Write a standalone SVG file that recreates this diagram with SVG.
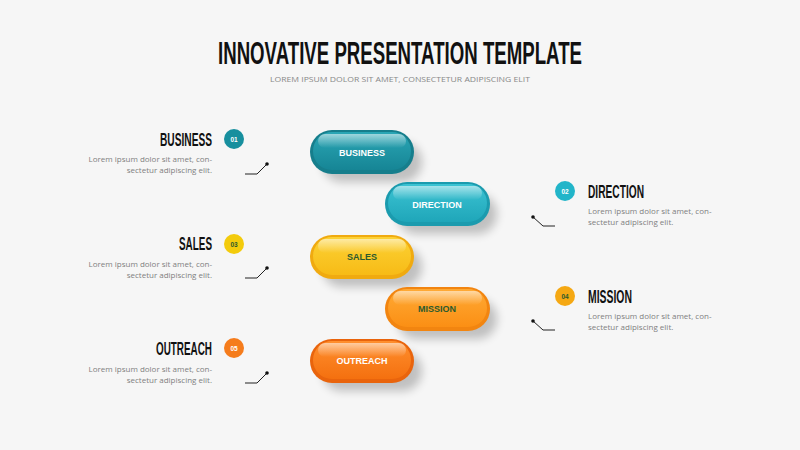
<svg xmlns="http://www.w3.org/2000/svg" width="800" height="450" viewBox="0 0 800 450">
<defs>
<filter id="sh" x="-30%" y="-50%" width="160%" height="220%"><feGaussianBlur stdDeviation="5"/></filter>
<linearGradient id="gloss" x1="0" y1="0" x2="0" y2="1"><stop offset="0" stop-color="#fff" stop-opacity="0.55"/><stop offset="1" stop-color="#fff" stop-opacity="0"/></linearGradient>
<linearGradient id="g1" x1="0" y1="0" x2="0" y2="1"><stop offset="0" stop-color="#2aa6b5"/><stop offset="1" stop-color="#168595"/></linearGradient>
<linearGradient id="g2" x1="0" y1="0" x2="0" y2="1"><stop offset="0" stop-color="#3cc3d3"/><stop offset="1" stop-color="#1fa6b9"/></linearGradient>
<linearGradient id="g3" x1="0" y1="0" x2="0" y2="1"><stop offset="0" stop-color="#fcd235"/><stop offset="1" stop-color="#f7bb16"/></linearGradient>
<linearGradient id="g4" x1="0" y1="0" x2="0" y2="1"><stop offset="0" stop-color="#ffaa35"/><stop offset="1" stop-color="#fb8f14"/></linearGradient>
<linearGradient id="g5" x1="0" y1="0" x2="0" y2="1"><stop offset="0" stop-color="#ff8f2e"/><stop offset="1" stop-color="#f4700f"/></linearGradient>
</defs>
<style>
.title{font-family:"Liberation Sans",Arial,sans-serif;font-weight:bold;fill:#111}
.sub{font-family:"Open Sans","Liberation Sans",sans-serif;font-size:8px;fill:#888}
.head{font-family:"Liberation Sans",Arial,sans-serif;font-weight:bold;font-size:19px;fill:#111}
.desc{font-family:"Open Sans","Liberation Sans",sans-serif;font-size:8px;fill:#808080}
.num{font-family:"Liberation Sans",Arial,sans-serif;font-weight:bold;font-size:6.5px;text-anchor:middle}
.pl{font-family:"Liberation Sans",Arial,sans-serif;font-weight:bold;font-size:9px;text-anchor:middle}
.shadow{fill:#000;opacity:0.22;filter:url(#sh)}
.conn{fill:none;stroke:#222;stroke-width:1}
</style>
<rect width="800" height="450" fill="#f6f6f6"/>
<text class="title" transform="matrix(0.58 0 0 1 218 64)" x="0" y="0" font-size="31" textLength="627.6" lengthAdjust="spacingAndGlyphs">INNOVATIVE PRESENTATION TEMPLATE</text>
<text class="sub" x="270" y="82" textLength="260" lengthAdjust="spacingAndGlyphs">LOREM IPSUM DOLOR SIT AMET, CONSECTETUR ADIPISCING ELIT</text>

<g id="connectors">
<polyline class="conn" points="245,174 257,174 267,164"/><circle cx="267" cy="164" r="1.8" fill="#111"/>
<polyline class="conn" points="533,217 543,226 555,226"/><circle cx="533" cy="217" r="1.8" fill="#111"/>
<polyline class="conn" points="245,278 257,278 267,268"/><circle cx="267" cy="268" r="1.8" fill="#111"/>
<polyline class="conn" points="533,321 543,330 555,330"/><circle cx="533" cy="321" r="1.8" fill="#111"/>
<polyline class="conn" points="245,383 257,383 267,373"/><circle cx="267" cy="373" r="1.8" fill="#111"/>
</g>

<g id="pill-business">
<rect class="shadow" x="322" y="142" width="100" height="40" rx="20"/>
<rect x="310" y="130" width="104" height="44" rx="22" fill="#167e8c"/>
<rect x="313" y="132" width="98" height="38" rx="19" fill="url(#g1)"/>
<rect x="318" y="134" width="88" height="14" rx="7" fill="url(#gloss)"/>
<text class="pl" x="362" y="156" fill="#fff">BUSINESS</text>
</g>
<g id="pill-direction">
<rect class="shadow" x="397" y="194" width="100" height="40" rx="20"/>
<rect x="385" y="182" width="105" height="44" rx="22" fill="#1b9bae"/>
<rect x="388" y="184" width="99" height="38" rx="19" fill="url(#g2)"/>
<rect x="393" y="186" width="89" height="14" rx="7" fill="url(#gloss)"/>
<text class="pl" x="437" y="208" fill="#fff">DIRECTION</text>
</g>
<g id="pill-sales">
<rect class="shadow" x="322" y="247" width="100" height="40" rx="20"/>
<rect x="310" y="235" width="104" height="44" rx="22" fill="#f0aa10"/>
<rect x="313" y="237" width="98" height="38" rx="19" fill="url(#g3)"/>
<rect x="318" y="239" width="88" height="14" rx="7" fill="url(#gloss)"/>
<text class="pl" x="362" y="260" fill="#2c5a2e">SALES</text>
</g>
<g id="pill-mission">
<rect class="shadow" x="397" y="299" width="100" height="40" rx="20"/>
<rect x="385" y="287" width="105" height="44" rx="22" fill="#f28510"/>
<rect x="388" y="289" width="99" height="38" rx="19" fill="url(#g4)"/>
<rect x="393" y="291" width="89" height="14" rx="7" fill="url(#gloss)"/>
<text class="pl" x="437" y="312" fill="#2c5a2e">MISSION</text>
</g>
<g id="pill-outreach">
<rect class="shadow" x="322" y="351" width="100" height="40" rx="20"/>
<rect x="310" y="339" width="104" height="44" rx="22" fill="#e9640c"/>
<rect x="313" y="341" width="98" height="38" rx="19" fill="url(#g5)"/>
<rect x="318" y="343" width="88" height="14" rx="7" fill="url(#gloss)"/>
<text class="pl" x="362" y="364" fill="#fff">OUTREACH</text>
</g>

<g id="label-business">
<text class="head" transform="matrix(0.55 0 0 1 160 146)" x="0" y="0" textLength="94.5" lengthAdjust="spacingAndGlyphs">BUSINESS</text>
<circle cx="234" cy="139" r="10" fill="#178f9e"/>
<text class="num" x="234" y="141.5" fill="#fff">01</text>
<text class="desc" x="212" y="162" text-anchor="end">Lorem ipsum dolor sit amet, con-</text>
<text class="desc" x="212" y="173" text-anchor="end">sectetur adipiscing elit.</text>
</g>
<g id="label-direction">
<circle cx="565" cy="191" r="10" fill="#22b5c9"/>
<text class="num" x="565" y="193.5" fill="#fff">02</text>
<text class="head" transform="matrix(0.55 0 0 1 588 198)" x="0" y="0" textLength="101.8" lengthAdjust="spacingAndGlyphs">DIRECTION</text>
<text class="desc" x="588" y="214">Lorem ipsum dolor sit amet, con-</text>
<text class="desc" x="588" y="225">sectetur adipiscing elit.</text>
</g>
<g id="label-sales">
<text class="head" transform="matrix(0.55 0 0 1 179 250)" x="0" y="0" textLength="60" lengthAdjust="spacingAndGlyphs">SALES</text>
<circle cx="234" cy="244" r="10" fill="#f3cb0c"/>
<text class="num" x="234" y="246.5" fill="#2c5a2e">03</text>
<text class="desc" x="212" y="267" text-anchor="end">Lorem ipsum dolor sit amet, con-</text>
<text class="desc" x="212" y="278" text-anchor="end">sectetur adipiscing elit.</text>
</g>
<g id="label-mission">
<circle cx="565" cy="296" r="10" fill="#f5a813"/>
<text class="num" x="565" y="298.5" fill="#2c5a2e">04</text>
<text class="head" transform="matrix(0.55 0 0 1 588 303)" x="0" y="0" textLength="80" lengthAdjust="spacingAndGlyphs">MISSION</text>
<text class="desc" x="588" y="319">Lorem ipsum dolor sit amet, con-</text>
<text class="desc" x="588" y="330">sectetur adipiscing elit.</text>
</g>
<g id="label-outreach">
<text class="head" transform="matrix(0.55 0 0 1 156 355)" x="0" y="0" textLength="101.8" lengthAdjust="spacingAndGlyphs">OUTREACH</text>
<circle cx="234" cy="348" r="10" fill="#f57c1c"/>
<text class="num" x="234" y="350.5" fill="#fff">05</text>
<text class="desc" x="212" y="372" text-anchor="end">Lorem ipsum dolor sit amet, con-</text>
<text class="desc" x="212" y="383" text-anchor="end">sectetur adipiscing elit.</text>
</g>
</svg>
